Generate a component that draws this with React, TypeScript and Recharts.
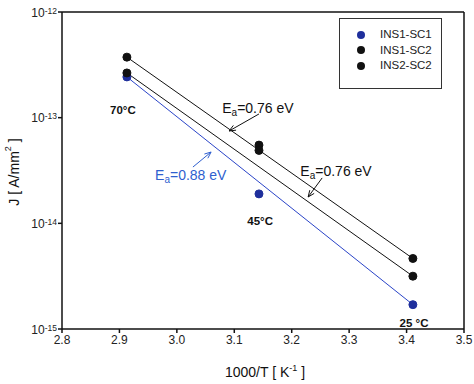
import React from 'react'
import {
  ComposedChart,
  Scatter,
  Line,
  XAxis,
  YAxis,
  ReferenceLine,
  ReferenceDot,
  Legend,
} from 'recharts'

// 1000/T values of the three temperatures
const invT = [2.913, 3.143, 3.411]
const tempLabels = ['70°C', '45°C', '25 °C']

// measured current densities [A/mm2]
const ins1sc1 = [2.43e-13, 1.9e-14, 1.7e-15]
const ins1sc2 = [3.74e-13, 5.5e-14, 4.65e-15]
const ins2sc2 = [2.65e-13, 4.9e-14, 3.16e-15]

// Arrhenius fit lines (end points)
const fitX = [2.913, 3.411]
const fitTop = [3.74e-13, 4.65e-15]
const fitMid = [2.65e-13, 3.16e-15]
const fitBlue = [2.43e-13, 1.7e-15]

const xTicks = [2.8, 2.9, 3.0, 3.1, 3.2, 3.3, 3.4, 3.5]
const yTicks = [1e-15, 1e-14, 1e-13, 1e-12]
const yExp = ['-15', '-14', '-13', '-12']

const seriesNames = ['INS1-SC1', 'INS1-SC2', 'INS2-SC2']
const seriesColors = ['#1f2f9c', '#111111', '#111111']

// temperature tag positions
const tempPos = [
  { x: 2.906, y: 1.18e-13 },
  { x: 3.145, y: 1.05e-14 },
  { x: 3.413, y: 1.14e-15 },
]

// activation energy annotations
const eaText = ['0.76', '0.76', '0.88']
const eaColor = ['#111111', '#111111', '#2f5fcf']
const eaPos = [
  { x: 3.079, y: 1.235e-13 },
  { x: 3.215, y: 3.13e-14 },
  { x: 2.962, y: 2.86e-14 },
]
const eaArrows = [
  [{ x: 3.143, y: 1.084e-13 }, { x: 3.091, y: 7.48e-14 }],
  [{ x: 3.253, y: 2.69e-14 }, { x: 3.2286, y: 1.775e-14 }],
  [{ x: 3.028, y: 3.41e-14 }, { x: 3.0596, y: 4.73e-14 }],
]

const pts = (ys: number[]) => ys.map((y, i) => ({ x: invT[i], y }))
const fit = (ys: number[]) => ys.map((y, i) => ({ x: fitX[i], y }))

const font = '"Liberation Sans", Arial, sans-serif'

const Dot = (color: string) => (p: any) => (
  <circle cx={p.cx} cy={p.cy} r={4} fill={color} stroke={color} />
)

const YTick = (p: any) => {
  const i = yTicks.indexOf(p.payload.value)
  return (
    <text x={p.x} y={p.y} textAnchor="end" fontFamily={font} fill="#222">
      <tspan fontSize={12} dy={4.5}>10</tspan>
      <tspan fontSize={8.5} dy={-3}>{yExp[i]}</tspan>
    </text>
  )
}

const XTick = (p: any) => (
  <text x={p.x} y={p.y + 9} textAnchor="middle" fontFamily={font} fontSize={12} fill="#222">
    {p.payload.value.toFixed(1)}
  </text>
)

const arrow = (color: string) => (p: any) => {
  const { x1, y1, x2, y2 } = p
  const a = Math.atan2(y2 - y1, x2 - x1)
  const L = 7
  const w = 0.4
  return (
    <g stroke={color} strokeWidth={1} fill="none">
      <line x1={x1} y1={y1} x2={x2} y2={y2} />
      <line x1={x2} y1={y2} x2={x2 - L * Math.cos(a - w)} y2={y2 - L * Math.sin(a - w)} />
      <line x1={x2} y1={y2} x2={x2 - L * Math.cos(a + w)} y2={y2 - L * Math.sin(a + w)} />
    </g>
  )
}

const LegendBox = () => (
  <div
    style={{
      width: 101,
      height: 61,
      border: '1px solid #333',
      background: '#fff',
      fontFamily: font,
      fontSize: 11.5,
      color: '#222',
      boxSizing: 'content-box',
      paddingTop: 8,
      lineHeight: '15.5px',
    }}
  >
    {seriesNames.map((n, i) => (
      <div key={n} style={{ display: 'flex', alignItems: 'center', height: 15.5 }}>
        <svg width={40} height={10}>
          <circle cx={21} cy={5} r={4} fill={seriesColors[i]} />
        </svg>
        <span>{n}</span>
      </div>
    ))}
  </div>
)

export default function App() {
  return (
    <div style={{ position: 'absolute', left: 0, top: 0, width: 474, height: 384, background: '#fff' }}>
      <ComposedChart width={474} height={384} margin={{ top: 12, right: 10, bottom: 15, left: 0 }}>
        <XAxis
          type="number"
          dataKey="x"
          domain={[2.8, 3.5]}
          ticks={xTicks}
          allowDataOverflow
          tick={<XTick />}
          tickSize={4}
          height={40}
          stroke="#111"
          strokeWidth={1.5}
          tickLine={{ stroke: '#111' }}
        />
        <YAxis
          type="number"
          dataKey="y"
          scale="log"
          domain={[1e-15, 1e-12]}
          ticks={yTicks}
          allowDataOverflow
          tick={<YTick />}
          tickSize={4}
          tickMargin={1}
          width={62}
          stroke="#111"
          strokeWidth={1.5}
          tickLine={{ stroke: '#111' }}
        />
        <ReferenceLine y={1e-12} stroke="#111" strokeWidth={1.5} />
        <ReferenceLine x={3.5} stroke="#111" strokeWidth={1.5} />

        <Line data={fit(fitBlue)} dataKey="y" type="linear" stroke="#2a44c8" strokeWidth={1} dot={false} legendType="none" isAnimationActive={false} />
        <Line data={fit(fitMid)} dataKey="y" type="linear" stroke="#111" strokeWidth={1} dot={false} legendType="none" isAnimationActive={false} />
        <Line data={fit(fitTop)} dataKey="y" type="linear" stroke="#111" strokeWidth={1} dot={false} legendType="none" isAnimationActive={false} />

        <Scatter name={seriesNames[0]} data={pts(ins1sc1)} fill={seriesColors[0]} shape={Dot(seriesColors[0])} isAnimationActive={false} />
        <Scatter name={seriesNames[1]} data={pts(ins1sc2)} fill={seriesColors[1]} shape={Dot(seriesColors[1])} isAnimationActive={false} />
        <Scatter name={seriesNames[2]} data={pts(ins2sc2)} fill={seriesColors[2]} shape={Dot(seriesColors[2])} isAnimationActive={false} />

        {eaArrows.map((seg, i) => (
          <ReferenceLine key={'a' + i} segment={seg} ifOverflow="visible" shape={arrow(eaColor[i])} />
        ))}

        {tempPos.map((p, i) => (
          <ReferenceDot
            key={'t' + i}
            x={p.x}
            y={p.y}
            r={1}
            ifOverflow="visible"
            shape={(d: any) => (
              <text x={d.cx} y={d.cy} textAnchor="middle" dominantBaseline="central" fontFamily={font} fontSize={11.5} fontWeight="bold" fill="#111">
                {tempLabels[i]}
              </text>
            )}
          />
        ))}

        {eaPos.map((p, i) => (
          <ReferenceDot
            key={'e' + i}
            x={p.x}
            y={p.y}
            r={1}
            ifOverflow="visible"
            shape={(d: any) => (
              <text x={d.cx} y={d.cy + 5} fontFamily={font} fontSize={14} fill={eaColor[i]}>
                E
                <tspan fontSize={10} dy={3}>a</tspan>
                <tspan dy={-3}>={eaText[i]} eV</tspan>
              </text>
            )}
          />
        ))}

        <text x={14} y={172} transform="rotate(-90 14 172)" textAnchor="middle" dominantBaseline="central" fontFamily={font} fontSize={14} fill="#111">
          J [ A/mm
          <tspan fontSize={9} dy={-6}>2</tspan>
          <tspan dy={6}> ]</tspan>
        </text>
        <text x={265} y={377} textAnchor="middle" fontFamily={font} fontSize={14} fill="#111">
          1000/T [ K
          <tspan fontSize={9} dy={-6}>-1</tspan>
          <tspan dy={6}> ]</tspan>
        </text>

        <Legend
          layout="vertical"
          align="center"
          verticalAlign="middle"
          content={<LegendBox />}
          wrapperStyle={{ left: 339, top: 18, width: 103, height: 71 }}
        />
      </ComposedChart>
    </div>
  )
}
